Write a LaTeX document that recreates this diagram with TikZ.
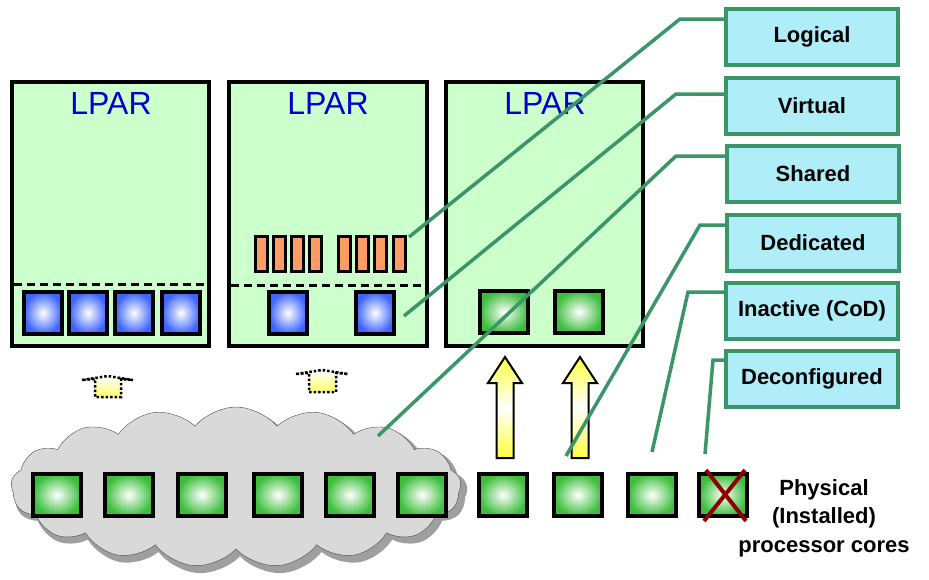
\documentclass[tikz,border=0pt]{standalone}
\usepackage{fontspec}
\setmainfont{Liberation Sans}
\usetikzlibrary{shapes.symbols}
\definecolor{lpar}{RGB}{204,255,204}
\definecolor{lead}{RGB}{58,150,105}
\definecolor{lab}{RGB}{175,238,248}
\definecolor{gsq}{RGB}{60,190,60}
\definecolor{bsq}{RGB}{60,100,255}
\begin{document}
\begin{tikzpicture}[x=1pt,y=-1pt,
  lparbox/.style={draw,line width=3.5pt,fill=lpar},
  lpartxt/.style={text=blue!80!black,font=\fontsize{32}{34}\selectfont},
  bsqs/.style={draw,line width=4pt,inner color=white,outer color=bsq},
  gsqs/.style={draw,line width=4pt,inner color=white,outer color=gsq},
  bar/.style={draw,line width=3pt,fill=orange!70!red!60},
  leader/.style={draw=lead,line width=3.5pt},
  labbox/.style={draw=lead,line width=3.5pt,fill=lab,minimum width=172pt,minimum height=56pt,font=\bfseries\fontsize{22}{26}\selectfont},
  up/.style={draw,line width=2pt,top color=yellow!75,bottom color=yellow!75,middle color=white},
  tray/.style={draw,dotted,line width=2.5pt,top color=white,bottom color=yellow!60}]
\useasboundingbox (0,0) rectangle (929,579);
% LPARs
\draw[lparbox] (12,82) rectangle (209,346);
\draw[lparbox] (229,82) rectangle (427,346);
\draw[lparbox] (446,82) rectangle (643,346);
\node[lpartxt] (l1) at (111,103) {LPAR};
\node[lpartxt] (l2) at (328,103) {LPAR};
\node[lpartxt] (l3) at (545,103) {LPAR};
\draw[line width=3pt,dash pattern=on 8pt off 5pt] (14,284) -- (207,284);
\draw[line width=3pt,dash pattern=on 8pt off 5pt] (231,285) -- (425,285);
\foreach \a in {24,69,115,162} \draw[bsqs] (\a,292) rectangle ++(38,42);
\foreach \a in {269,356} \draw[bsqs] (\a,292) rectangle ++(38,42);
\foreach \a in {255,273,291,309,338,356,374,393} \draw[bar] (\a,236) rectangle ++(12,35);
\draw[gsqs] (480,291) rectangle (528,333);
\draw[gsqs] (555,291) rectangle (603,333);
% trays
\draw[tray] (82,380) -- (95,378) -- (108,376) -- (120,378) -- (133,380) -- (121,379) -- (121,397) -- (95,397) -- (95,379) -- cycle;
\draw[tray] (296,374) -- (309,372) -- (322,370) -- (335,372) -- (348,374) -- (336,373) -- (336,392) -- (309,392) -- (309,373) -- cycle;
% cloud
\node[cloud,cloud puffs=17,cloud puff arc=100,aspect=3,minimum width=455pt,minimum height=165pt,fill=gray!75] (cs) at (240,492) {};
\node[cloud,cloud puffs=17,cloud puff arc=100,aspect=3,minimum width=450pt,minimum height=160pt,draw=gray!60!black,fill=gray!30] (cloud) at (236,487) {};
% bottom squares
\foreach \a in {33,105,178,254,326,398,479,554,628,699} \draw[gsqs] (\a,474) rectangle ++(48,42);
\draw[red!55!black,line width=4pt] (706,470) -- (746,521);
\draw[red!55!black,line width=4pt] (745,470) -- (704,521);
% arrows
\foreach \c in {505,580}
  \draw[up] (\c,357) -- (\c+17,383) -- (\c+8.5,383) -- (\c+8.5,458) -- (\c-8.5,458) -- (\c-8.5,383) -- (\c-17,383) -- cycle;
% labels
\node[labbox] (lg) at (812,37) {Logical};
\node[labbox] (vi) at (812,106) {Virtual};
\node[labbox] (sh) at (813,174) {Shared};
\node[labbox] (de) at (813,243) {Dedicated};
\node[labbox] (in) at (812,311) {Inactive (CoD)};
\node[labbox] (dc) at (812,379) {Deconfigured};
\draw[leader] (lg.west|-0,19) -- (680,19) -- (409,237);
\draw[leader] (vi.west|-0,94) -- (676,94) -- (404,316);
\draw[leader] (sh.west|-0,156) -- (676,156) -- (378,436);
\draw[leader] (de.west|-0,225) -- (700,225) -- (566,456);
\draw[leader] (in.west|-0,292) -- (688,292) -- (652,452);
\draw[leader] (dc.west|-0,360) -- (713,360) -- (705,454);
\node[font=\bfseries\fontsize{22}{28.5}\selectfont,align=center] (ph) at (824,518) {Physical\\(Installed)\\processor cores};
\end{tikzpicture}
\end{document}
